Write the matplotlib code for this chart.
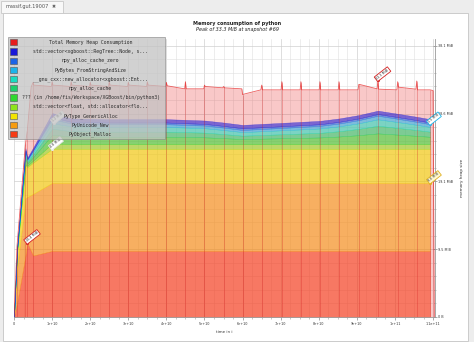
import numpy as np
import matplotlib
matplotlib.use("Agg")
import matplotlib.pyplot as plt
from matplotlib.patches import Rectangle

# ---------------- data (time in 1e10 instructions, memory in 1e6 bytes) -------------
snap_t = [0, 0.08, 0.30, 0.35, 0.5, 1.0, 1.5, 2.0, 2.5, 3.0, 3.5, 4.0, 4.5, 5.0, 5.5,
          6.0, 6.5, 7.03, 7.53, 8.03, 8.53, 9.05, 9.55, 10.07, 10.57, 10.92]

py_object_malloc = [0, 2.0, 9.0, 10.9, 9.06, 9.74, 9.74, 9.74, 9.74, 9.74, 9.74, 9.74, 9.74,
                    9.74, 9.74, 9.74, 9.74, 9.74, 9.74, 9.74, 9.74, 9.74, 9.74, 9.74, 9.74, 9.74]
py_unicode_new = [0, 5.0, 8.5, 6.8, 9.1, 10.04, 10.04, 10.04, 10.04, 10.04, 10.04, 10.04, 10.04,
                  10.04, 10.04, 10.04, 10.04, 10.04, 10.04, 10.04, 10.04, 10.04, 10.04, 10.04, 10.04, 10.04]
py_type_generic_alloc = [0, 2.5, 4.8, 4.4, 4.6, 5.0, 5.0, 5.0, 5.0, 5.0, 5.0, 5.0, 5.0,
                         5.0, 5.0, 5.0, 5.0, 5.0, 5.0, 5.0, 5.0, 5.0, 5.0, 5.0, 5.0, 5.0]
vector_float = [0, 0.1, 0.2, 0.2, 0.3, 0.8, 0.7, 0.7, 0.7, 0.7, 0.7, 0.7, 0.7,
                0.7, 0.7, 0.7, 0.7, 0.7, 0.7, 0.7, 0.7, 0.7, 0.7, 0.7, 0.7, 0.7]
unknown_python3 = [0, 0.1, 0.8, 0.35, 0.5, 1.3, 1.14, 1.12, 1.1, 1.1, 1.1, 1.1, 1.06,
                   1.02, 0.90, 0.76, 0.82, 0.88, 0.94, 1.0, 1.14, 1.34, 1.6, 1.42, 1.24, 1.1]
npy_alloc_cache = [0, 0.1, 0.5, 0.25, 0.4, 0.9, 0.78, 0.77, 0.75, 0.75, 0.75, 0.75, 0.72,
                   0.69, 0.60, 0.50, 0.54, 0.59, 0.63, 0.675, 0.78, 0.93, 1.125, 0.99, 0.855, 0.75]
gnu_new_allocator = [0, 0.1, 0.4, 0.2, 0.35, 0.8, 0.72, 0.71, 0.7, 0.7, 0.7, 0.7, 0.68,
                     0.66, 0.60, 0.53, 0.56, 0.59, 0.62, 0.65, 0.72, 0.82, 0.95, 0.86, 0.77, 0.7]
py_bytes = [0, 0.1, 0.3, 0.15, 0.25, 0.6, 0.41, 0.40, 0.4, 0.4, 0.4, 0.4, 0.39,
            0.38, 0.35, 0.31, 0.33, 0.34, 0.36, 0.375, 0.41, 0.46, 0.525, 0.48, 0.435, 0.4]
npy_alloc_cache_zero = [0, 0, 0.1, 0.05, 0.1, 0.3, 0.25, 0.25, 0.25, 0.25, 0.25, 0.25, 0.25,
                        0.25, 0.25, 0.25, 0.25, 0.25, 0.25, 0.25, 0.25, 0.25, 0.25, 0.25, 0.25, 0.25]
regtree_node = [0, 0, 0.3, 0.2, 0.3, 0.6, 0.5, 0.5, 0.5, 0.5, 0.5, 0.5, 0.5,
                0.5, 0.5, 0.5, 0.5, 0.5, 0.5, 0.5, 0.5, 0.5, 0.5, 0.5, 0.5, 0.5]

total_t = [0, 0.08, 0.30, 0.35, 0.45, 0.50, 0.52,
           0.98, 1.00, 1.02, 1.48, 1.50, 1.52, 1.98, 2.00, 2.02, 2.48, 2.50, 2.52,
           2.98, 3.00, 3.02, 3.48, 3.50, 3.52, 3.98, 4.00, 4.02, 4.48, 4.50, 4.52,
           4.98, 5.00, 5.02, 5.48, 5.50, 5.52, 5.98, 6.00, 6.02, 6.48, 6.50, 6.52,
           7.01, 7.03, 7.05, 7.51, 7.53, 7.55, 8.01, 8.03, 8.05, 8.51, 8.53, 8.55,
           9.03, 9.05, 9.07, 9.53, 9.55, 9.57, 10.05, 10.07, 10.09, 10.55, 10.57, 10.59,
           10.92, 11.00, 11.03]
total_mb = [0, 10.5, 25.5, 27.5, 33.9, 34.6, 34.2,
            34.0, 34.7, 34.2, 34.0, 34.7, 34.2, 34.0, 34.6, 34.2, 34.0, 34.7, 34.2,
            34.0, 34.6, 34.2, 34.0, 34.7, 34.2, 34.0, 34.6, 34.1, 33.65, 34.7, 33.65,
            33.65, 34.2, 34.0, 33.8, 34.0, 33.8, 33.65, 32.8, 32.85, 33.5, 34.2, 33.5,
            33.5, 34.7, 33.5, 33.5, 34.7, 33.5, 33.5, 34.7, 33.5, 33.5, 34.7, 33.5,
            33.5, 34.3, 34.3, 33.65, 34.9, 33.6, 33.5, 34.7, 33.9, 33.6, 34.8, 33.5,
            33.5, 33.4, 0]

layer_names = ["PyObject_Malloc", "PyUnicode_New", "PyType_GenericAlloc",
               "std::vector<float, std::allocator<flo...",
               "??? (in /home/fis/Workspace/XGBoost/bin/python3)",
               "npy_alloc_cache", "__gnu_cxx::new_allocator<xgboost::Ent...",
               "PyBytes_FromStringAndSize", "npy_alloc_cache_zero",
               "std::vector<xgboost::RegTree::Node, s..."]
layer_colors = ["#f63a14", "#f69c10", "#f2e400", "#8ee41c", "#2ed82e", "#1ccf6c",
                "#18dcc0", "#1cb4ea", "#1c64e6", "#1818d8"]
total_name = "Total Memory Heap Consumption"
total_color = "#e61c1c"

x_ticks = list(range(12))
x_tick_labels = ["0", "1e+10", "2e+10", "3e+10", "4e+10", "5e+10", "6e+10", "7e+10",
                 "8e+10", "9e+10", "1e+11", "1.1e+11"]
y_ticks = [0, 10, 20, 30, 40]
y_tick_labels = ["0 B", "9.5 MiB", "19.1 MiB", "28.6 MiB", "38.1 MiB"]

# ---------------- figure ---------------------------------------------------
W, H = 474, 342
fig = plt.figure(figsize=(W / 100, H / 100), dpi=100, facecolor="#ededed")

def fx(x):
    return x / W

def fy(y):
    return 1 - y / H

# window chrome (behind the axes)
fig.patches.append(Rectangle((fx(3), fy(341)), fx(468) - fx(3), fy(13) - fy(341),
                             transform=fig.transFigure, fc="white", ec="#c4c4c4", lw=0.6,
                             zorder=-10))
fig.patches.append(Rectangle((fx(0.5), fy(13)), fx(62), fy(0.5) - fy(13),
                             transform=fig.transFigure, fc="#f8f8f8", ec="#c8c8c8", lw=0.6,
                             zorder=-10))
fig.text(fx(5), fy(6.2), "massif.gut.19007", fontsize=3.6, color="#505050",
         ha="left", va="center")
fig.text(fx(54), fy(6.2), "\u2716", fontsize=3.4, color="#606060", ha="center", va="center")

fig.text(fx(237), fy(23), "Memory consumption of python", fontsize=3.5, weight="bold",
         ha="center", va="center", color="#222222")
fig.text(fx(237), fy(29.6), "Peak of 33.3 MiB at snapshot #69", fontsize=3.5, style="italic",
         ha="center", va="center", color="#222222")

ax = fig.add_axes([fx(14), fy(317), fx(435) - fx(14), fy(39) - fy(317)])
ax.set_zorder(1)
ax.patch.set_alpha(0)
ax.set_xlim(0, 11.05)
ax.set_ylim(0, 41.0)
ax.set_axisbelow(True)

# total
t_arr = np.array(total_t)
tot = np.array(total_mb)
assert len(t_arr) == len(tot)
ax.fill_between(t_arr, 0, tot, color=total_color, alpha=0.24, lw=0, zorder=1)
ax.plot(t_arr, tot, color=total_color, alpha=0.7, lw=0.6, zorder=4)

# stacked layers
layers = [py_object_malloc, py_unicode_new, py_type_generic_alloc, vector_float,
          unknown_python3, npy_alloc_cache, gnu_new_allocator, py_bytes,
          npy_alloc_cache_zero, regtree_node]
st = np.array(snap_t)
base = np.zeros(len(st))
tops = []
for vals, col in zip(layers, layer_colors):
    v = np.array(vals)
    assert len(v) == len(st)
    ax.fill_between(st, base, base + v, facecolor=col, alpha=0.56, lw=0.3,
                    edgecolor=col, zorder=2)
    base = base + v
    tops.append(base.copy())

# snapshot lines
snap_height = np.interp(st[1:], t_arr, tot)
ax.vlines(st[1:], 0, snap_height, color="#d42020", alpha=0.35, lw=0.6, zorder=3)

# grid and axes
ax.set_xticks(x_ticks)
ax.set_xticklabels(x_tick_labels)
ax.set_xticks(np.arange(0, 11.01, 0.25), minor=True)
ax.set_yticks(y_ticks)
ax.set_yticklabels(y_tick_labels)
ax.set_yticks(np.arange(0, 41, 2), minor=True)
ax.grid(True, which="major", color="#d0d0d0", lw=0.5)
ax.grid(True, which="minor", color="#e0e0e0", lw=0.4)
ax.yaxis.tick_right()
ax.yaxis.set_label_position("right")
for s in ["left", "top"]:
    ax.spines[s].set_visible(False)
for s in ["right", "bottom"]:
    ax.spines[s].set_color("#9a9a9a")
    ax.spines[s].set_linewidth(0.6)
ax.tick_params(which="major", length=2.5, width=0.5, color="#888888", labelsize=2.4,
               labelcolor="#333333", pad=1.2)
ax.tick_params(axis="y", which="both", direction="inout")
ax.tick_params(which="minor", length=1.3, width=0.4, color="#999999")
ax.set_xlabel("time in i", fontsize=2.9, color="#333333", labelpad=2.5)
ax.set_ylabel("memory heap size", fontsize=3.0, color="#333333", labelpad=5)

# peak annotations
def peak_label(x, y, text, ec, fc="white"):
    ax.plot([x], [y], "o", ms=1.2, color=ec, zorder=6)
    ax.text(x, y, text, rotation=38, rotation_mode="anchor", ha="left", va="bottom",
            fontsize=2.4, color="#333333", zorder=7,
            bbox=dict(boxstyle="square,pad=0.25", fc=fc, ec=ec, lw=0.6))

i_peak = int(np.argmax(tot))
peak_label(t_arr[i_peak], tot[i_peak], "33.3 MiB", "#d42020")
i_red = int(np.argmax(py_object_malloc))
peak_label(st[i_red], tops[0][i_red], "10.4 MiB", "#d42020")
peak_label(st[5], tops[2][5], "4.8 MiB", "#e8e8e8")
peak_label(st[5] + 0.05, tops[6][5], "1.2 MiB", "#e8e8e8")
peak_label(st[-1], tops[7][-1], "1.5 MiB", "#1cb4ea")
peak_label(st[-1], tops[1][-1], "9.6 MiB", "#e0b020", fc="#fff8d0")

# legend (drawn manually, above the axes)
fig.patches.append(Rectangle((fx(8), fy(138.5)), fx(165) - fx(8), fy(37) - fy(138.5),
                             transform=fig.transFigure, fc="#c2c2c2", alpha=0.74,
                             ec="#8a8a8a", lw=0.6, zorder=10))
leg_names = [total_name] + layer_names[::-1]
leg_cols = [total_color] + layer_colors[::-1]
for i, (nm, c) in enumerate(zip(leg_names, leg_cols)):
    yc = 42.3 + 9.2 * i
    fig.patches.append(Rectangle((fx(10.3), fy(yc + 3.1)), fx(6.3), fy(0) - fy(6.2),
                                 transform=fig.transFigure, fc=c, ec="#555555",
                                 lw=0.4, zorder=11))
    fig.text(fx(90.5), fy(yc), nm, fontsize=3.55, family="DejaVu Sans Mono",
             ha="center", va="center", color="#2a2a2a", zorder=12)

fig.savefig("out.png", dpi=100, facecolor=fig.get_facecolor())
